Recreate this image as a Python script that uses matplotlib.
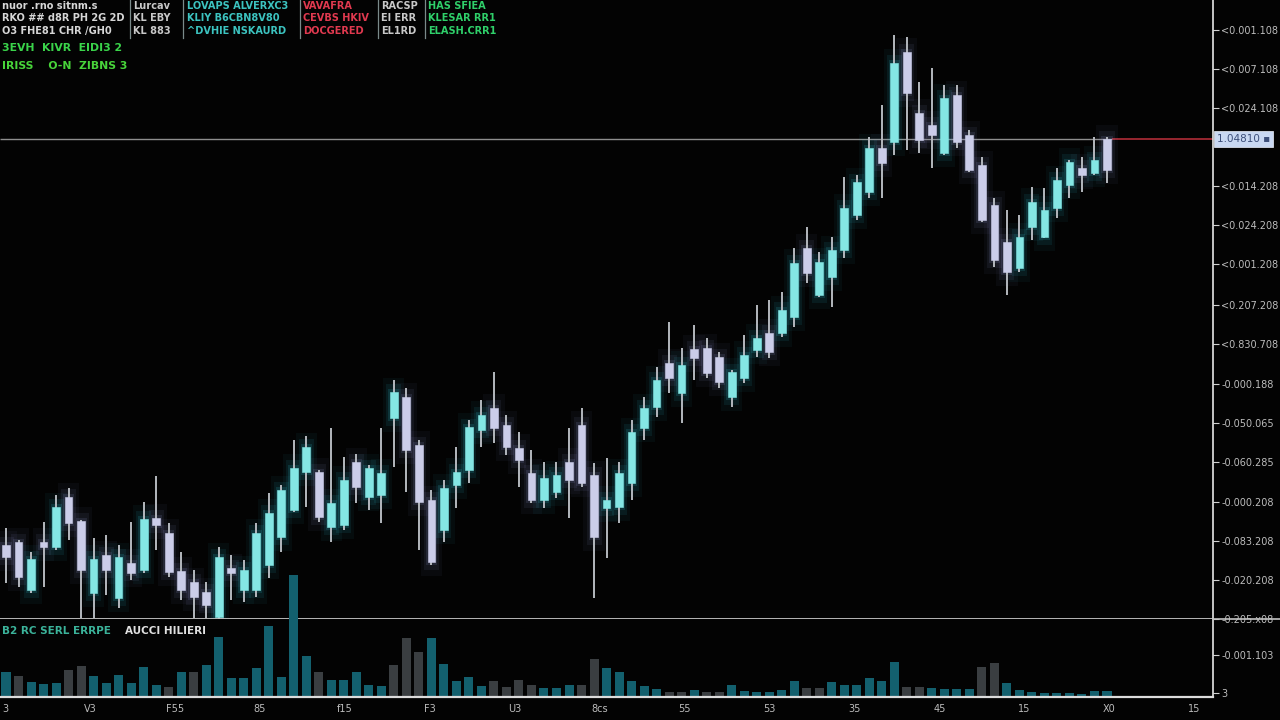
import numpy as np
import matplotlib.pyplot as plt
from matplotlib.lines import Line2D

# -----------------------------
# Candle data (oldest -> newest)
# -----------------------------
opens = [1.0075, 1.0078, 1.0030, 1.0078, 1.0073, 1.0123, 1.0099, 1.0027, 1.0065, 1.0022,
         1.0057, 1.0050, 1.0102, 1.0087, 1.0049, 1.0038, 1.0028, 1.0003, 1.0052, 1.0030,
         1.0030, 1.0055, 1.0083, 1.0110, 1.0148, 1.0148, 1.0093, 1.0095, 1.0158, 1.0123,
         1.0125, 1.0202, 1.0223, 1.0175, 1.0120, 1.0090, 1.0135, 1.0150, 1.0190, 1.0212,
         1.0195, 1.0172, 1.0147, 1.0120, 1.0128, 1.0158, 1.0195, 1.0145, 1.0112, 1.0113,
         1.0137, 1.0192, 1.0213, 1.0257, 1.0227, 1.0271, 1.0272, 1.0263, 1.0223, 1.0242,
         1.0270, 1.0287, 1.0287, 1.0303, 1.0372, 1.0325, 1.0343, 1.0370, 1.0405, 1.0428,
         1.0472, 1.0478, 1.0568, 1.0507, 1.0495, 1.0467, 1.0525, 1.0485, 1.0455, 1.0415,
         1.0378, 1.0352, 1.0393, 1.0383, 1.0412, 1.0435, 1.0452, 1.0447, 1.0481]
highs = [1.0092, 1.0080, 1.0068, 1.0098, 1.0125, 1.0132, 1.0100, 1.0082, 1.0085, 1.0075,
         1.0098, 1.0118, 1.0144, 1.0097, 1.0068, 1.0050, 1.0038, 1.0073, 1.0065, 1.0060,
         1.0097, 1.0127, 1.0135, 1.0180, 1.0184, 1.0150, 1.0192, 1.0163, 1.0166, 1.0155,
         1.0192, 1.0240, 1.0232, 1.0180, 1.0130, 1.0140, 1.0173, 1.0200, 1.0220, 1.0248,
         1.0205, 1.0188, 1.0170, 1.0158, 1.0158, 1.0192, 1.0212, 1.0157, 1.0162, 1.0158,
         1.0200, 1.0223, 1.0253, 1.0298, 1.0272, 1.0295, 1.0282, 1.0268, 1.0250, 1.0285,
         1.0315, 1.0320, 1.0328, 1.0372, 1.0393, 1.0368, 1.0383, 1.0443, 1.0445, 1.0483,
         1.0515, 1.0585, 1.0583, 1.0538, 1.0552, 1.0535, 1.0535, 1.0490, 1.0463, 1.0422,
         1.0410, 1.0405, 1.0433, 1.0432, 1.0452, 1.0460, 1.0463, 1.0483, 1.0483]
lows = [1.0037, 1.0033, 1.0027, 1.0033, 1.0070, 1.0080, 1.0002, 1.0002, 1.0025, 1.0012,
        1.0040, 1.0047, 1.0070, 1.0043, 1.0020, 1.0002, 1.0002, 1.0001, 1.0020, 1.0018,
        1.0023, 1.0042, 1.0068, 1.0108, 1.0113, 1.0098, 1.0078, 1.0090, 1.0117, 1.0110,
        1.0097, 1.0153, 1.0128, 1.0070, 1.0055, 1.0078, 1.0112, 1.0137, 1.0173, 1.0177,
        1.0165, 1.0133, 1.0117, 1.0112, 1.0122, 1.0102, 1.0133, 1.0022, 1.0062, 1.0097,
        1.0120, 1.0180, 1.0203, 1.0227, 1.0197, 1.0240, 1.0242, 1.0232, 1.0213, 1.0237,
        1.0263, 1.0262, 1.0283, 1.0293, 1.0337, 1.0323, 1.0313, 1.0362, 1.0400, 1.0422,
        1.0422, 1.0465, 1.0470, 1.0467, 1.0452, 1.0465, 1.0472, 1.0448, 1.0398, 1.0353,
        1.0325, 1.0348, 1.0380, 1.0382, 1.0402, 1.0422, 1.0428, 1.0445, 1.0437]
closes = [1.0063, 1.0043, 1.0061, 1.0073, 1.0113, 1.0097, 1.0050, 1.0061, 1.0050, 1.0063,
          1.0047, 1.0101, 1.0095, 1.0048, 1.0030, 1.0023, 1.0015, 1.0063, 1.0047, 1.0050,
          1.0087, 1.0107, 1.0130, 1.0152, 1.0173, 1.0103, 1.0117, 1.0140, 1.0133, 1.0152,
          1.0147, 1.0228, 1.0170, 1.0118, 1.0058, 1.0132, 1.0148, 1.0193, 1.0205, 1.0192,
          1.0173, 1.0160, 1.0120, 1.0142, 1.0145, 1.0140, 1.0137, 1.0083, 1.0120, 1.0147,
          1.0188, 1.0212, 1.0240, 1.0242, 1.0255, 1.0262, 1.0247, 1.0238, 1.0248, 1.0265,
          1.0282, 1.0268, 1.0310, 1.0357, 1.0347, 1.0358, 1.0370, 1.0412, 1.0438, 1.0472,
          1.0457, 1.0557, 1.0527, 1.0480, 1.0485, 1.0522, 1.0478, 1.0450, 1.0400, 1.0360,
          1.0348, 1.0383, 1.0418, 1.0410, 1.0440, 1.0458, 1.0445, 1.0460, 1.0450]

volumes = [2500, 2100, 1500, 1300, 1400, 2700, 3100, 2100, 1400, 2200,
           1400, 3000, 1200, 1000, 2500, 2500, 3200, 6000, 1900, 1900,
           2900, 7100, 2000, 12200, 4100, 2500, 1700, 1700, 2500, 1200,
           1100, 3200, 5900, 4500, 5900, 3300, 1600, 2000, 1100, 1600,
           1000, 1700, 1200, 900, 900, 1200, 1200, 3800, 2900, 2500,
           1600, 1100, 800, 500, 500, 700, 500, 500, 1200, 600,
           500, 500, 700, 1600, 900, 900, 1500, 1200, 1200, 1900,
           1600, 3500, 1000, 1000, 900, 800, 800, 800, 3000, 3400,
           1400, 700, 500, 400, 400, 400, 300, 600, 600]
# 1 = teal volume bar, 0 = grey volume bar
vol_up = [1, 0, 1, 1, 1, 0, 0, 1, 1, 1,
          1, 1, 1, 0, 1, 0, 1, 1, 1, 1,
          1, 1, 1, 1, 1, 0, 1, 1, 1, 1,
          1, 0, 0, 0, 1, 1, 1, 1, 1, 0,
          0, 0, 0, 1, 1, 1, 0, 0, 1, 1,
          1, 1, 1, 0, 0, 1, 0, 0, 1, 1,
          1, 1, 1, 1, 0, 0, 1, 1, 1, 1,
          1, 1, 0, 0, 1, 1, 1, 1, 0, 0,
          1, 1, 1, 1, 1, 1, 1, 1, 1]

last_level = 1.0481

price_ticks = [1.0590, 1.0551, 1.0512, 1.0434, 1.0395, 1.0356, 1.0315, 1.0276,
               1.0236, 1.0197, 1.0158, 1.0118, 1.0079, 1.0040, 1.0001]
price_labels = ["<0.001.108", "<0.007.108", "<0.024.108", "<0.014.208", "<0.024.208",
                "<0.001.208", "<0.207.208", "<0.830.708", "-0.000.188", "-0.050.065",
                "-0.060.285", "-0.000.208", "-0.083.208", "-0.020.208", "-0.205.x08"]
vol_ticks = [4200, 400]
vol_labels = ["-0.001.103", "3"]

x_labels = ["3", "V3", "F55", "85", "f15", "F3", "U3", "8cs", "55", "53", "35", "45", "15", "X0", "15"]

legend_rows = [
    ["nuor .rno sitnm.s", "Lurcav", "LOVAPS ALVERXC3", "VAVAFRA", "RACSP", "HAS SFIEA"],
    ["RKO ## d8R PH 2G 2D", "KL EBY", "KLIY B6CBN8V80", "CEVBS HKIV", "EI ERR", "KLESAR RR1"],
    ["O3 FHE81 CHR /GH0", "KL 883", "^DVHIE NSKAURD", "DOCGERED", "EL1RD", "ELASH.CRR1"],
]

# -----------------------------
# Figure / axes
# -----------------------------
BG = "#030303"
fig = plt.figure(figsize=(12.8, 7.2), dpi=100, facecolor=BG)
W, H = 1280.0, 720.0
ax = fig.add_axes([0, (H - 619) / H, 1213 / W, 619 / H], facecolor=BG)
axv = fig.add_axes([0, (H - 697) / H, 1213 / W, 78 / H], facecolor=BG)

n = len(opens)
x = np.arange(n)
step = (1107 - 6) / (n - 1)
xlim = (-6 / step, (1213 - 6) / step)

o = np.array(opens)
c = np.array(closes)
up = c >= o
body_lo = np.minimum(o, c)
body_h = np.maximum(np.abs(c - o), 0.0004)

bull_col, bear_col = "#84e6e4", "#cbcde9"
colors = np.where(up, bull_col, bear_col)
glow = np.where(up, "#2fc4d6", "#8c90c8")

# soft glow behind candles
for w, a, pad in [(1.7, 0.05, 0.0014), (1.2, 0.09, 0.0008), (0.88, 0.15, 0.0003)]:
    ax.bar(x, body_h + 2 * pad, bottom=body_lo - pad, width=w, color=glow, alpha=a,
           linewidth=0, zorder=1)
ax.vlines(x, lows, highs, color="#b4b8be", linewidth=1.4, zorder=2)
ax.bar(x, body_h, bottom=body_lo, width=0.62, color=colors, edgecolor=colors,
       linewidth=0.4, zorder=3)

# last price line
ax.hlines(last_level, xlim[0], n - 0.6, color="#8e8e8e", linewidth=1.0, zorder=0)
ax.hlines(last_level, n - 0.6, xlim[1], color="#c0303c", linewidth=1.1, zorder=0)
ax.text(1.003, last_level, "1.04810 ▪", transform=ax.get_yaxis_transform(),
        ha="left", va="center", fontsize=7.5, color="#3d4f7a", clip_on=False,
        bbox=dict(boxstyle="square,pad=0.3", fc="#c9d8f2", ec="#eef2fb", lw=0.5))

ax.set_xlim(*xlim)
ax.set_ylim(1.0001, 1.0620)
ax.set_xticks([])
ax.yaxis.tick_right()
ax.set_yticks(price_ticks, labels=price_labels)
ax.tick_params(axis="y", colors="#d0d0d0", labelcolor="#bcbcbc", labelsize=7,
               length=4, width=0.8, pad=2)
for s in ["left", "top"]:
    ax.spines[s].set_visible(False)
ax.spines["right"].set_color("#e6e6e6")
ax.spines["right"].set_linewidth(1.2)
ax.spines["bottom"].set_color("#c4c4c4")
ax.spines["bottom"].set_linewidth(1.3)

# volume panel
vcol = ["#13606e" if u else "#3a3e41" for u in vol_up]
axv.bar(x, volumes, width=0.72, color=vcol, linewidth=0, clip_on=False, zorder=2)
axv.set_xlim(*xlim)
axv.set_ylim(0, 7800)
axv.yaxis.tick_right()
axv.set_yticks(vol_ticks, labels=vol_labels)
axv.tick_params(axis="y", colors="#d0d0d0", labelcolor="#bcbcbc", labelsize=7,
                length=4, width=0.8, pad=2)
axv.set_xticks(np.arange(len(x_labels)) * 6.79 - 0.08, labels=x_labels)
axv.tick_params(axis="x", colors="#bcbcbc", labelsize=7, length=0, pad=5)
for s in ["left", "top"]:
    axv.spines[s].set_visible(False)
axv.spines["right"].set_color("#e6e6e6")
axv.spines["right"].set_linewidth(1.2)
axv.spines["bottom"].set_color("#dcdcdc")
axv.spines["bottom"].set_linewidth(1.6)

# separator continues past the axis
fig.add_artist(Line2D([1213 / W, 1.0], [(H - 619) / H] * 2, color="#c4c4c4", lw=1.2))

# -----------------------------
# Header / legend text
# -----------------------------
fam = ["DejaVu Sans"]
col_x = [2, 133, 187, 303, 381, 428]
col_c = ["#d6d6d6", "#c8c8c8", "#3cc3c0", "#e0394f", "#c8c8c8", "#2fd06a"]
row_y = [6, 18, 31]
for r, row in enumerate(legend_rows):
    for j, txt in enumerate(row):
        fig.text(col_x[j] / W, 1 - row_y[r] / H, txt, color=col_c[j], fontsize=7.8,
                 family=fam, fontstretch="condensed", fontweight="bold",
                 va="center", ha="left")
for sx in [130, 183, 300, 378, 425]:
    fig.add_artist(Line2D([sx / W] * 2, [1.0, 1 - 38 / H], color="#7a8a8a", lw=0.9))

fig.text(2 / W, 1 - 48 / H, "3EVH  KIVR  EIDI3 2", color="#3ad44a", fontsize=7.8,
         family=fam, fontweight="bold", va="center")
fig.text(2 / W, 1 - 66 / H, "IRISS    O-N  ZIBNS 3", color="#48d43a", fontsize=7.8,
         family=fam, fontweight="bold", va="center")

fig.text(2 / W, 1 - 631 / H, "B2 RC SERL ERRPE", color="#3bb39a", fontsize=7.5,
         family=fam, fontweight="bold", va="center")
fig.text(125 / W, 1 - 631 / H, "AUCCI HILIERI", color="#e0e0e0", fontsize=7.5,
         family=fam, fontweight="bold", va="center")

fig.savefig("out.png", dpi=100, facecolor=BG)
